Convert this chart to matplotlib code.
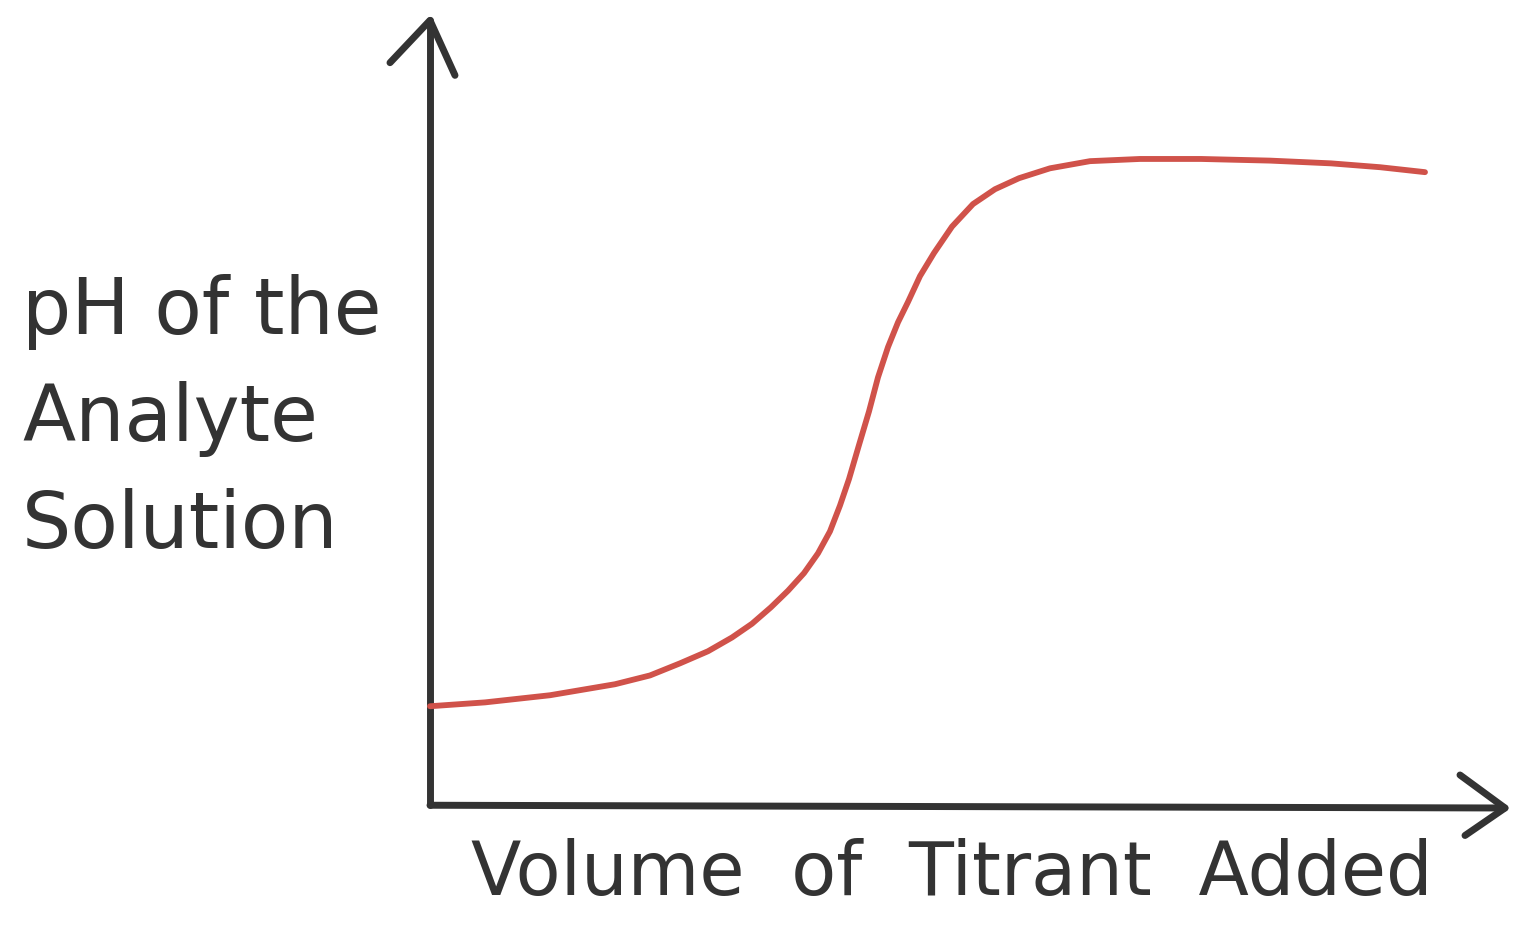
import numpy as np
import matplotlib
matplotlib.use('Agg')
import matplotlib.pyplot as plt

# titration curve (volume in arbitrary units, pH)
volume = [0.0, 0.55, 1.2, 1.85, 2.2, 2.5, 2.78, 3.02, 3.22, 3.41, 3.58,
          3.74, 3.88, 4.0, 4.1, 4.19, 4.29, 4.39, 4.48, 4.58, 4.68, 4.78,
          4.9, 5.04, 5.22, 5.43, 5.65, 5.89, 6.2, 6.6, 7.1, 7.71, 8.4,
          9.01, 9.5, 9.95]
ph = [1.80, 1.87, 2.0, 2.20, 2.36, 2.58, 2.8, 3.05, 3.3, 3.6, 3.9,
      4.22, 4.58, 4.98, 5.45, 5.93, 6.55, 7.16, 7.78, 8.33, 8.78, 9.15,
      9.62, 10.04, 10.52, 10.93, 11.2, 11.4, 11.58, 11.71, 11.75, 11.75,
      11.72, 11.67, 11.6, 11.51]

y_label = ['pH of the', 'Analyte', 'Solution']
x_label = 'Volume  of  Titrant  Added'

axis_col = '#333333'
curve_col = '#d0524a'

fig = plt.figure(figsize=(15.36, 9.4), dpi=100)
ax = fig.add_axes([0, 0, 1, 1])
ax.set_xlim(-4.3, 11.06)
ax.set_ylim(-2.45, 14.64)
ax.axis('off')

# axes lines with arrow heads
ax.plot([0, 0], [0, 14.27], color=axis_col, lw=5, solid_capstyle='round')
ax.plot([-0.4, 0, 0.25], [13.5, 14.27, 13.27], color=axis_col, lw=5,
        solid_capstyle='round', solid_joinstyle='round')
ax.plot([0, 10.75], [0, -0.05], color=axis_col, lw=5, solid_capstyle='round')
ax.plot([10.3, 10.75, 10.35], [0.55, -0.05, -0.55], color=axis_col, lw=5,
        solid_capstyle='round', solid_joinstyle='round')

# titration curve
ax.plot(volume, ph, color=curve_col, lw=4.2, solid_capstyle='round',
        solid_joinstyle='round')

for i, line in enumerate(y_label):
    fig.text(22 / 1536, 1 - (312 + i * 107) / 940, line, fontsize=56,
             color=axis_col, ha='left', va='center', family='DejaVu Sans')

fig.text(952 / 1536, 1 - 875 / 940, x_label, fontsize=53, color=axis_col,
         ha='center', va='center', family='DejaVu Sans')

fig.savefig('out.png', dpi=100, facecolor='white')
